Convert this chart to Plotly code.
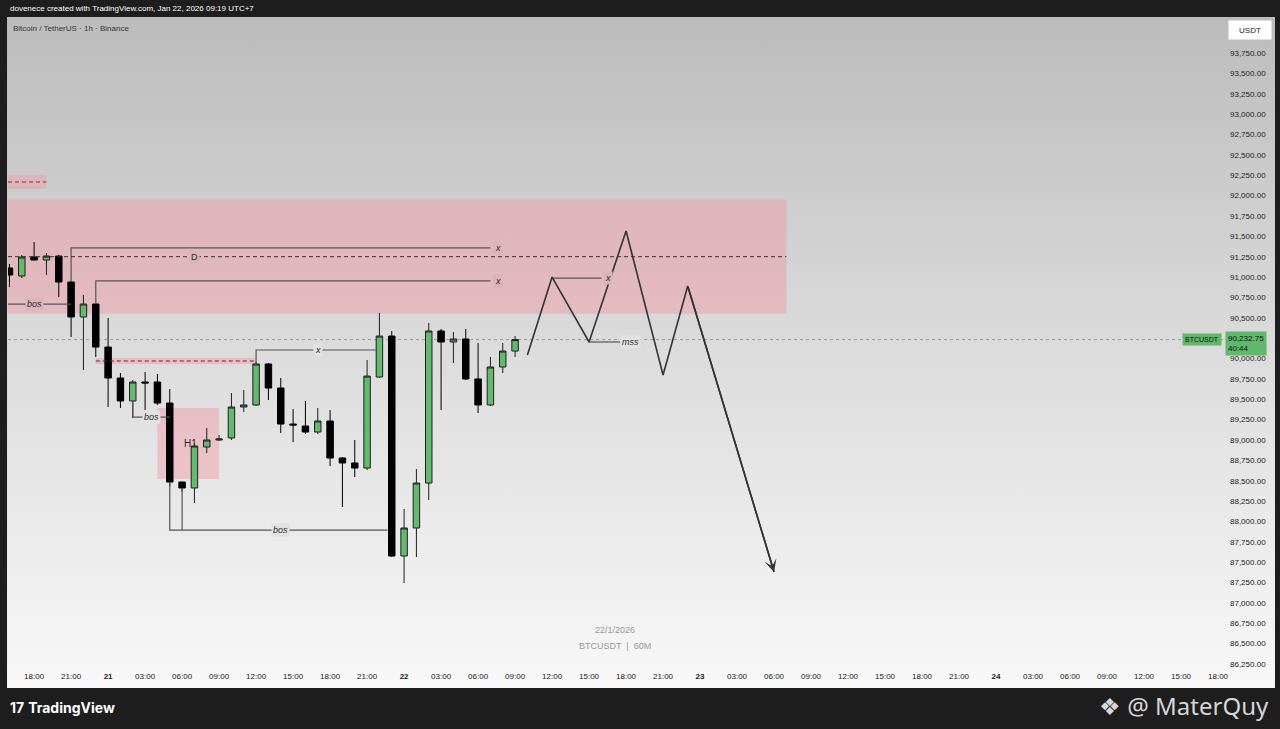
import base64
from datetime import datetime, timedelta

import plotly.graph_objects as go

# ---- candles (1h, BTCUSDT, UTC+7) ----
START = datetime(2026, 1, 20, 16, 0)
OPEN = [91111, 91013, 91246, 91209, 91258, 90939, 90510, 90669,
        90141, 89761, 89479, 89712, 89712, 89454, 88484, 88411, 88914, 89000,
        89025, 89405, 89430, 89933, 89638, 89196, 89172, 89098, 89233, 88779,
        88718, 88656, 89773, 90276,
        87576, 87920, 88472, 90338, 90203, 90240, 89749, 89430, 89896, 90092]
HIGH = [91160, 91271, 91430, 91295, 91271, 90952, 90780, 90682,
        90497, 89822, 89736, 89834, 89810, 89626, 88490, 88963, 89147, 89061,
        89577, 89614, 89957, 89945, 89761, 89380, 89479, 89393, 89368, 88790,
        89000, 89982, 90559, 90338,
        88153, 88644, 90436, 90362, 90326, 90362, 90190, 90019, 90190, 90276]
LOW = [90878, 90988, 91205, 91025, 90755, 90264, 89859, 90019,
       89405, 89393, 89270, 89368, 89430, 88430, 88362, 88227, 88840, 88988,
       89000, 89344, 89417, 89491, 89086, 88975, 89074, 89074, 88681, 88178,
       88546, 88632, 89761, 87564,
       87245, 87564, 88263, 89368, 89945, 89736, 89331, 89417, 89822, 90019]
CLOSE = [91025, 91246, 91209, 91258, 90939, 90510, 90669, 90141,
         89761, 89479, 89712, 89700, 89454, 88484, 88411, 88926, 89000, 89012,
         89405, 89430, 89933, 89638, 89196, 89184, 89098, 89233, 88779, 88718,
         88656, 89785, 90276, 87576,
         87920, 88472, 90338, 90203, 90240, 89749, 89430, 89896, 90092, 90232.75]
TIMES = [START + timedelta(hours=i) for i in range(len(OPEN))]
LAST_PRICE = 90232.75

# ---- drawings (time, price) ----
ZONE_TOP, ZONE_BOTTOM, ZONE_END = 91950, 90550, "2026-01-23 07:00"
D_LEVEL = 91250
SMALL_BOX = (92253, 92081, "2026-01-20 19:00", 92167)
OB_BOX = ("2026-01-21 04:00", "2026-01-21 09:00", 89393, 88521)
EQ_BAND = ("2026-01-20 23:00", "2026-01-21 12:00", 90006, 89933, 89970)

LINES = [  # (times, prices)
    (["2026-01-20 21:00", "2026-01-20 21:00", "2026-01-22 07:00"], [90939, 91357, 91357]),
    (["2026-01-20 23:00", "2026-01-20 23:00", "2026-01-22 07:00"], [90669, 90952, 90952]),
    (["2026-01-20 15:50", "2026-01-20 21:00"], [90669, 90669]),
    (["2026-01-21 12:00", "2026-01-21 12:00", "2026-01-21 21:45"], [89933, 90105, 90105]),
    (["2026-01-21 02:00", "2026-01-21 02:00", "2026-01-21 05:00"], [89479, 89282, 89282]),
    (["2026-01-21 05:00", "2026-01-21 05:00", "2026-01-21 22:40"], [88484, 87895, 87895]),
    (["2026-01-21 06:00", "2026-01-21 06:00"], [88411, 87895]),
    (["2026-01-22 12:00", "2026-01-22 16:00"], [90988, 90988]),
    (["2026-01-22 15:00", "2026-01-22 17:30"], [90203, 90203]),
]
LABELS = [  # (time, price, text)
    ("2026-01-22 07:35", 91357, "x"),
    ("2026-01-22 07:35", 90952, "x"),
    ("2026-01-20 18:00", 90669, "bos"),
    ("2026-01-21 17:00", 90105, "x"),
    ("2026-01-21 03:30", 89282, "bos"),
    ("2026-01-21 14:00", 87895, "bos"),
    ("2026-01-22 16:30", 90988, "x"),
    ("2026-01-22 18:20", 90203, "mss"),
]
PATH_T = ["2026-01-22 10:00", "2026-01-22 12:00", "2026-01-22 15:00", "2026-01-22 18:00",
          "2026-01-22 21:00", "2026-01-22 23:00", "2026-01-23 06:00"]
PATH_P = [90043, 91000, 90203, 91565, 89798, 90890, 87380]

# ---- axes ----
PRICE_TICKS = [86250 + 250 * i for i in range(31)]
TIME_TICKS = [datetime(2026, 1, 20, 18) + timedelta(hours=3 * i) for i in range(33)]
TIME_TEXT = [f"<b>{t.day}</b>" if t.hour == 0 else t.strftime("%H:%M") for t in TIME_TICKS]
X_RANGE = ["2026-01-20 15:53", "2026-01-24 18:29"]
Y_RANGE = [86177, 94192]

INK = "#2b2b2b"
FONT = "Liberation Sans"

fig = go.Figure()

fig.add_trace(go.Candlestick(
    x=TIMES, open=OPEN, high=HIGH, low=LOW, close=CLOSE,
    increasing=dict(fillcolor="#64b96e", line=dict(color="#1f1f1f", width=1)),
    decreasing=dict(fillcolor="#000000", line=dict(color="#000000", width=1)),
    whiskerwidth=0, showlegend=False, hoverinfo="skip",
))

for xs, ys in LINES:
    fig.add_trace(go.Scatter(x=xs, y=ys, mode="lines", line=dict(color="#555555", width=1.2),
                             showlegend=False, hoverinfo="skip"))

fig.add_trace(go.Scatter(x=PATH_T, y=PATH_P, mode="lines", line=dict(color="#333333", width=1.6),
                         showlegend=False, hoverinfo="skip"))
fig.add_annotation(x=PATH_T[-1], y=PATH_P[-1], ax=PATH_T[-2], ay=PATH_P[-2], xref="x", yref="y",
                   axref="x", ayref="y", showarrow=True, arrowhead=3, arrowsize=1.3,
                   arrowwidth=1.6, arrowcolor="#333333", text="")

# zones
pink = "rgba(240,150,162,0.45)"
fig.add_shape(type="rect", x0=X_RANGE[0], x1=ZONE_END, y0=ZONE_BOTTOM, y1=ZONE_TOP,
              fillcolor=pink, line=dict(width=0), layer="below")
fig.add_shape(type="line", x0=X_RANGE[0], x1=ZONE_END, y0=D_LEVEL, y1=D_LEVEL,
              line=dict(color="#333333", width=1, dash="4px,3px"))
fig.add_shape(type="rect", x0=X_RANGE[0], x1=SMALL_BOX[2], y0=SMALL_BOX[1], y1=SMALL_BOX[0],
              fillcolor=pink, line=dict(width=0), layer="below")
fig.add_shape(type="line", x0=X_RANGE[0], x1=SMALL_BOX[2], y0=SMALL_BOX[3], y1=SMALL_BOX[3],
              line=dict(color="#7a3a42", width=1, dash="4px,3px"))
fig.add_shape(type="rect", x0=OB_BOX[0], x1=OB_BOX[1], y0=OB_BOX[3], y1=OB_BOX[2],
              fillcolor=pink, line=dict(width=0), layer="below")
fig.add_shape(type="rect", x0=EQ_BAND[0], x1=EQ_BAND[1], y0=EQ_BAND[3], y1=EQ_BAND[2],
              fillcolor=pink, line=dict(width=0), layer="below")
fig.add_shape(type="line", x0=EQ_BAND[0], x1=EQ_BAND[1], y0=EQ_BAND[4], y1=EQ_BAND[4],
              line=dict(color="#5a2a30", width=1, dash="4px,3px"))
fig.add_shape(type="line", x0=X_RANGE[0], x1=X_RANGE[1], y0=LAST_PRICE, y1=LAST_PRICE,
              line=dict(color="#9a9a9a", width=1, dash="dot"), layer="below")

fig.add_annotation(x="2026-01-21 07:00", y=D_LEVEL, text="D", showarrow=False,
                   font=dict(family=FONT, size=9, color=INK), bgcolor="#dab4b9")
fig.add_annotation(x="2026-01-21 06:40", y=88963, text="H1", showarrow=False,
                   font=dict(family=FONT, size=10, color=INK))
for t, p, txt in LABELS:
    fig.add_annotation(x=t, y=p, text=f"<i>{txt}</i>", showarrow=False, borderpad=1,
                       font=dict(family=FONT, size=9, color=INK),
                       bgcolor="#dab4b9" if p > ZONE_BOTTOM else "rgba(226,226,226,1)")

# price tags
fig.add_annotation(x=1.0, y=LAST_PRICE, xref="paper", yref="y", xanchor="left", yanchor="middle",
                   text="90,232.75<br>40:44", showarrow=False, align="left", xshift=1, yshift=-4,
                   font=dict(family=FONT, size=8, color="#111"), bgcolor="#5fb86b", borderpad=2)
fig.add_annotation(x=1.0, y=LAST_PRICE, xref="paper", yref="y", xanchor="right", yanchor="middle",
                   text="BTCUSDT", showarrow=False, xshift=-2,
                   font=dict(family=FONT, size=7, color="#111"), bgcolor="#5fb86b", borderpad=2)
fig.add_annotation(x=1.0, y=1.0, xref="paper", yref="paper", xanchor="left", yanchor="top",
                   text="USDT", showarrow=False, xshift=4, yshift=-3, width=38, height=14,
                   align="center", font=dict(family=FONT, size=8, color="#222"),
                   bgcolor="#ffffff", borderpad=2)

# texts on the frame
fig.add_annotation(x=0, y=1.0, xref="paper", yref="paper", xanchor="left", yanchor="bottom",
                   text="dovenece created with TradingView.com, Jan 22, 2026 09:19 UTC+7",
                   showarrow=False, yshift=2, xshift=0, font=dict(family=FONT, size=8, color="#ffffff"))
fig.add_annotation(x=0, y=1.0, xref="paper", yref="paper", xanchor="left", yanchor="top",
                   text="Bitcoin / TetherUS · 1h · Binance", showarrow=False, xshift=3, yshift=-5,
                   font=dict(family=FONT, size=8, color="#333"))
fig.add_annotation(x=0.499, y=0.0505, xref="paper", yref="paper", text="22/1/2026", showarrow=False,
                   font=dict(family=FONT, size=9, color="#9a9a9a"))
fig.add_annotation(x=0.499, y=0.026, xref="paper", yref="paper", text="BTCUSDT  |  60M", showarrow=False,
                   font=dict(family=FONT, size=9, color="#9a9a9a"))
fig.add_annotation(x=0, y=-0.058, xref="paper", yref="paper", xanchor="left", yanchor="middle",
                   text="<b>17</b> <b>TradingView</b>", showarrow=False, xshift=0,
                   font=dict(family="Inter", size=14, color="#ffffff"))
fig.add_annotation(x=1.042, y=-0.055, xref="paper", yref="paper", xanchor="right", yanchor="middle",
                   text="❖ @ MaterQuy", showarrow=False, xshift=-4,
                   font=dict(family="Noto Sans", size=24, color="#d6d6d6"))

# gradient panel behind the chart
svg = ("<svg xmlns='http://www.w3.org/2000/svg' width='100' height='100' preserveAspectRatio='none'>"
       "<defs><linearGradient id='g' x1='0' y1='0' x2='0' y2='1'>"
       "<stop offset='0' stop-color='#bcbcbc'/><stop offset='0.5' stop-color='#dcdcdc'/>"
       "<stop offset='1' stop-color='#f8f8f8'/></linearGradient></defs>"
       "<rect width='100' height='100' fill='url(#g)'/></svg>")
fig.add_layout_image(source="data:image/svg+xml;base64," + base64.b64encode(svg.encode()).decode(),
                     xref="paper", yref="paper", x=-0.0008, y=1.0, sizex=1.0428, sizey=1.0276,
                     xanchor="left", yanchor="top", sizing="stretch", layer="below")

fig.update_layout(
    width=1280, height=729,
    margin=dict(l=8, r=56, t=17, b=59),
    paper_bgcolor="#1e1e1e", plot_bgcolor="rgba(0,0,0,0)",
    font=dict(family=FONT, size=8, color="#222"),
    showlegend=False, boxgap=0.25,
    xaxis=dict(type="date", range=X_RANGE, rangeslider=dict(visible=False), showgrid=False,
               zeroline=False, showline=False, ticks="", tickvals=TIME_TICKS, ticktext=TIME_TEXT,
               tickfont=dict(size=8, color="#222"), fixedrange=True),
    yaxis=dict(side="right", range=Y_RANGE, showgrid=False, zeroline=False, showline=False,
               ticks="", tickvals=PRICE_TICKS, tickformat=",.2f", ticklabelstandoff=5,
               tickfont=dict(size=8, color="#222"), fixedrange=True),
)

fig.write_html("out.html", config={"displayModeBar": False},
               post_script="document.body.style.margin='0';document.body.style.background='#1e1e1e';")
